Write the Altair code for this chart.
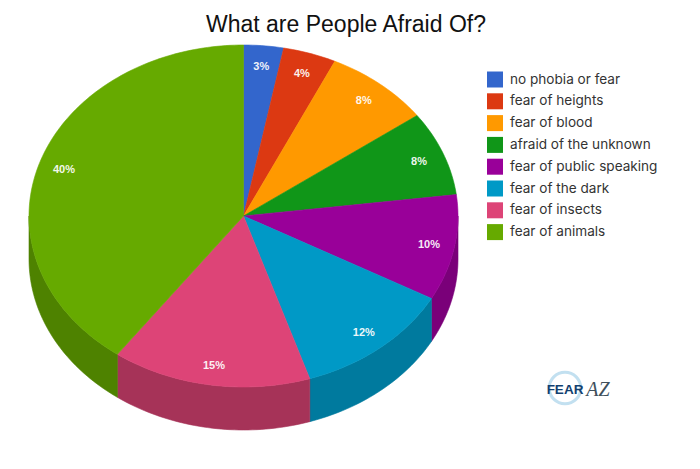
import math
import altair as alt
import pandas as pd

categories = ["no phobia or fear", "fear of heights", "fear of blood", "afraid of the unknown",
              "fear of public speaking", "fear of the dark", "fear of insects", "fear of animals"]
shares = [3, 4, 8, 8, 10, 12, 15, 40]
labels = ["3%", "4%", "8%", "8%", "10%", "12%", "15%", "40%"]
colors = ["#3366cc", "#dc3912", "#ff9900", "#109618", "#990099", "#0099c6", "#dd4477", "#66aa00"]
wall_colors = ["#264d99", "#a52b0e", "#bf7300", "#0c7112", "#7a0079", "#007a9e", "#a63358", "#4e8200"]

CX, CY, RX, RY, DEPTH = 243.5, 216.0, 214.5, 171.0, 43.0
LABEL_F = 0.88


def pt(share, f=1.0, dy=0.0):
    a = share / 100 * 2 * math.pi
    return CX + RX * f * math.sin(a), CY - RY * f * math.cos(a) + dy


face_rows, wall_rows, label_rows = [], [], []
cum = 0.0
for idx, (name, s) in enumerate(zip(categories, shares)):
    start, end = cum, cum + s
    steps = max(4, int(s * 3))
    arc = [start + (end - start) * k / steps for k in range(steps + 1)]
    poly = [(CX, CY)] + [pt(v) for v in arc] + [(CX, CY)]
    for i, (x, y) in enumerate(poly):
        face_rows.append(dict(name=name, idx=idx, i=i, x=x, y=y))
    lo, hi = max(start, 25.0), min(end, 75.0)
    if hi > lo:
        n = max(4, int((hi - lo) * 3))
        rim = [lo + (hi - lo) * k / n for k in range(n + 1)]
        wall = [pt(v) for v in rim] + [pt(v, dy=DEPTH) for v in reversed(rim)]
        wall.append(wall[0])
        for i, (x, y) in enumerate(wall):
            wall_rows.append(dict(name=name, idx=idx, i=i, x=x, y=y))
    lx, ly = pt((start + end) / 2, LABEL_F)
    label_rows.append(dict(name=name, text=labels[idx], x=lx, y=ly))
    cum = end

faces = pd.DataFrame(face_rows)
walls = pd.DataFrame(wall_rows)
lab = pd.DataFrame(label_rows)

X = alt.X("x:Q", scale=alt.Scale(domain=[8, 688]), axis=None)
Y = alt.Y("y:Q", scale=alt.Scale(domain=[458, 8]), axis=None)

layers = []
for idx in sorted(walls.idx.unique()):
    d = walls[walls.idx == idx]
    layers.append(alt.Chart(d).mark_line(fill=wall_colors[idx], stroke=wall_colors[idx], strokeWidth=0.6)
                  .encode(x=X, y=Y, order="i:Q"))
for idx in sorted(faces.idx.unique()):
    d = faces[faces.idx == idx]
    layers.append(alt.Chart(d).mark_line(fill=colors[idx], stroke=colors[idx], strokeWidth=0.6)
                  .encode(x=X, y=Y, order="i:Q"))

legend_layer = alt.Chart(lab).mark_square(size=1, opacity=0).encode(
    x=X, y=Y,
    color=alt.Color("name:N", sort=categories,
                    scale=alt.Scale(domain=categories, range=colors),
                    legend=alt.Legend(title=None, orient="none", legendX=479, legendY=63.5,
                                      symbolType="square", symbolSize=256, symbolOpacity=1,
                                      symbolStrokeWidth=0, labelFont="Inter", labelFontSize=13.6,
                                      labelColor="#333333", labelOffset=7, rowPadding=5.8,
                                      labelLimit=220, padding=0)),
)

text_layer = alt.Chart(lab).mark_text(color="white", font="Liberation Sans", fontSize=11, fontWeight="bold", opacity=0.92, dy=1).encode(
    x=X, y=Y, text="text:N")

title_df = pd.DataFrame([dict(x=346, y=25, t="What are People Afraid Of?")])
title_layer = alt.Chart(title_df).mark_text(font="Liberation Sans", fontSize=23, color="#111111").encode(x=X, y=Y, text="t:N")

logo_ring = pd.DataFrame([dict(x=565, y=388)])
ring = alt.Chart(logo_ring).mark_point(size=1000, filled=False, stroke="#a9d3ea", strokeWidth=3).encode(x=X, y=Y)
logo1 = alt.Chart(pd.DataFrame([dict(x=565, y=390, t="FEAR")])).mark_text(
    font="Liberation Sans", fontSize=13.5, fontWeight="bold", color="#123f70").encode(x=X, y=Y, text="t:N")
logo2 = alt.Chart(pd.DataFrame([dict(x=598, y=390, t="AZ")])).mark_text(
    font="Liberation Serif", fontStyle="italic", fontSize=20, color="#40505c").encode(x=X, y=Y, text="t:N")

chart = alt.layer(*layers, legend_layer, text_layer, title_layer, ring, logo1, logo2).properties(
    width=680, height=450, padding=0, autosize=alt.AutoSizeParams(type="none"),
    background="white"
).configure_view(stroke=None)

chart.save("out.html", embed_options={"renderer": "svg", "actions": False})
